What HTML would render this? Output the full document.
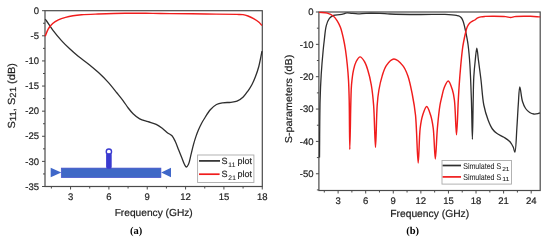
<!DOCTYPE html><html><head><meta charset="utf-8"><style>html,body{margin:0;padding:0;background:#fff;width:550px;height:243px;overflow:hidden}svg{display:block;text-rendering:geometricPrecision}text{font-family:"Liberation Sans",Arial,sans-serif;fill:#1e1e1e;stroke:#1e1e1e;stroke-width:0.2px}</style></head><body>
<svg width="550" height="243" viewBox="0 0 550 243">
<rect width="550" height="243" fill="#fff"/>
<line x1="51.39" y1="186.50" x2="51.39" y2="188.50" stroke="#4a4a4a" stroke-width="1"/>
<line x1="70.56" y1="186.50" x2="70.56" y2="189.50" stroke="#4a4a4a" stroke-width="1"/>
<text x="70.56" y="199.50" font-size="9.5" text-anchor="middle">3</text>
<line x1="89.73" y1="186.50" x2="89.73" y2="188.50" stroke="#4a4a4a" stroke-width="1"/>
<line x1="108.90" y1="186.50" x2="108.90" y2="189.50" stroke="#4a4a4a" stroke-width="1"/>
<text x="108.90" y="199.50" font-size="9.5" text-anchor="middle">6</text>
<line x1="128.07" y1="186.50" x2="128.07" y2="188.50" stroke="#4a4a4a" stroke-width="1"/>
<line x1="147.24" y1="186.50" x2="147.24" y2="189.50" stroke="#4a4a4a" stroke-width="1"/>
<text x="147.24" y="199.50" font-size="9.5" text-anchor="middle">9</text>
<line x1="166.41" y1="186.50" x2="166.41" y2="188.50" stroke="#4a4a4a" stroke-width="1"/>
<line x1="185.58" y1="186.50" x2="185.58" y2="189.50" stroke="#4a4a4a" stroke-width="1"/>
<text x="185.58" y="199.50" font-size="9.5" text-anchor="middle">12</text>
<line x1="204.75" y1="186.50" x2="204.75" y2="188.50" stroke="#4a4a4a" stroke-width="1"/>
<line x1="223.92" y1="186.50" x2="223.92" y2="189.50" stroke="#4a4a4a" stroke-width="1"/>
<text x="223.92" y="199.50" font-size="9.5" text-anchor="middle">15</text>
<line x1="243.09" y1="186.50" x2="243.09" y2="188.50" stroke="#4a4a4a" stroke-width="1"/>
<line x1="262.26" y1="186.50" x2="262.26" y2="189.50" stroke="#4a4a4a" stroke-width="1"/>
<text x="262.26" y="199.50" font-size="9.5" text-anchor="middle">18</text>
<line x1="42.00" y1="10.70" x2="45.00" y2="10.70" stroke="#4a4a4a" stroke-width="1"/>
<text x="39.00" y="13.90" font-size="9.5" text-anchor="end">0</text>
<line x1="43.00" y1="23.26" x2="45.00" y2="23.26" stroke="#4a4a4a" stroke-width="1"/>
<line x1="42.00" y1="35.81" x2="45.00" y2="35.81" stroke="#4a4a4a" stroke-width="1"/>
<text x="39.00" y="39.02" font-size="9.5" text-anchor="end">-5</text>
<line x1="43.00" y1="48.37" x2="45.00" y2="48.37" stroke="#4a4a4a" stroke-width="1"/>
<line x1="42.00" y1="60.93" x2="45.00" y2="60.93" stroke="#4a4a4a" stroke-width="1"/>
<text x="39.00" y="64.13" font-size="9.5" text-anchor="end">-10</text>
<line x1="43.00" y1="73.49" x2="45.00" y2="73.49" stroke="#4a4a4a" stroke-width="1"/>
<line x1="42.00" y1="86.05" x2="45.00" y2="86.05" stroke="#4a4a4a" stroke-width="1"/>
<text x="39.00" y="89.25" font-size="9.5" text-anchor="end">-15</text>
<line x1="43.00" y1="98.60" x2="45.00" y2="98.60" stroke="#4a4a4a" stroke-width="1"/>
<line x1="42.00" y1="111.16" x2="45.00" y2="111.16" stroke="#4a4a4a" stroke-width="1"/>
<text x="39.00" y="114.36" font-size="9.5" text-anchor="end">-20</text>
<line x1="43.00" y1="123.72" x2="45.00" y2="123.72" stroke="#4a4a4a" stroke-width="1"/>
<line x1="42.00" y1="136.27" x2="45.00" y2="136.27" stroke="#4a4a4a" stroke-width="1"/>
<text x="39.00" y="139.47" font-size="9.5" text-anchor="end">-25</text>
<line x1="43.00" y1="148.83" x2="45.00" y2="148.83" stroke="#4a4a4a" stroke-width="1"/>
<line x1="42.00" y1="161.39" x2="45.00" y2="161.39" stroke="#4a4a4a" stroke-width="1"/>
<text x="39.00" y="164.59" font-size="9.5" text-anchor="end">-30</text>
<line x1="43.00" y1="173.95" x2="45.00" y2="173.95" stroke="#4a4a4a" stroke-width="1"/>
<line x1="42.00" y1="186.50" x2="45.00" y2="186.50" stroke="#4a4a4a" stroke-width="1"/>
<text x="39.00" y="189.70" font-size="9.5" text-anchor="end">-35</text>
<rect x="45.00" y="10.70" width="217.30" height="175.80" fill="none" stroke="#4a4a4a" stroke-width="1.2"/>
<polygon points="50.7,167.8 50.7,177.2 61.3,172.5" fill="#3f67c9"/>
<rect x="61.3" y="168.1" width="99.6" height="9.5" fill="#3f68c6" stroke="#4650cc" stroke-width="0.7"/>
<polygon points="171,167.8 171,177.2 161.2,172.5" fill="#3f67c9"/>
<rect x="106.1" y="153.2" width="5.6" height="15.5" rx="1.6" fill="#3a3ad0"/>
<circle cx="108.9" cy="151.7" r="2.65" fill="none" stroke="#3a3ad0" stroke-width="1.4"/>
<path d="M45.20,19.20 C45.67,19.80 45.98,20.15 46.60,21.00 C48.01,22.92 50.80,27.42 53.20,30.60 C55.74,33.96 58.67,37.49 61.50,40.60 C64.18,43.54 66.92,46.20 69.70,48.80 C72.39,51.32 74.90,53.54 77.90,56.00 C81.34,58.82 85.74,61.82 89.30,64.70 C92.57,67.35 95.48,69.80 98.50,72.60 C101.65,75.52 104.78,78.59 107.80,81.90 C110.96,85.37 114.25,89.61 117.00,93.00 C119.29,95.82 121.28,98.22 123.20,100.80 C125.00,103.22 126.48,105.78 128.20,108.00 C129.79,110.06 131.25,111.93 133.10,113.70 C135.06,115.57 137.25,117.57 139.70,118.90 C142.20,120.26 145.24,120.80 148.00,121.70 C150.74,122.60 153.69,123.10 156.20,124.30 C158.61,125.46 160.80,127.19 162.80,128.70 C164.60,130.06 166.08,131.67 167.70,132.90 C169.15,134.00 170.78,134.50 172.00,135.80 C173.37,137.27 174.27,139.38 175.30,141.50 C176.50,143.97 177.50,147.04 178.60,149.80 C179.70,152.54 180.88,155.45 181.90,158.00 C182.79,160.24 183.48,162.69 184.40,164.30 C185.06,165.45 185.81,167.01 186.50,167.00 C187.18,166.99 187.90,165.55 188.50,164.30 C189.53,162.15 190.19,157.93 191.00,154.70 C191.82,151.43 192.54,147.93 193.40,144.80 C194.19,141.93 195.02,139.17 195.90,136.60 C196.70,134.27 197.47,132.17 198.40,130.00 C199.34,127.81 200.47,125.45 201.50,123.50 C202.37,121.84 203.01,120.74 204.10,119.00 C205.69,116.45 208.05,112.32 210.30,109.80 C212.23,107.64 214.31,105.67 216.50,104.50 C218.43,103.47 220.39,103.17 222.60,102.80 C225.13,102.38 228.35,102.61 230.90,102.30 C233.10,102.04 235.04,102.00 237.00,101.20 C239.15,100.32 241.35,98.74 243.20,97.00 C245.17,95.15 246.88,92.49 248.40,90.30 C249.77,88.33 250.88,86.63 252.00,84.50 C253.27,82.09 254.41,79.34 255.50,76.50 C256.69,73.38 257.80,70.22 258.80,66.50 C260.02,61.97 260.93,56.30 262.00,51.20" fill="none" stroke="#2e2e2e" stroke-width="1.3"/>
<path d="M45.20,36.30 C46.23,33.80 46.98,31.00 48.30,28.80 C49.52,26.78 51.01,24.99 52.70,23.50 C54.38,22.03 56.33,20.90 58.40,19.90 C60.60,18.84 63.16,18.08 65.60,17.40 C68.03,16.72 70.44,16.23 73.00,15.80 C75.72,15.35 78.20,15.07 81.50,14.80 C86.09,14.42 91.82,14.24 98.00,14.00 C105.90,13.69 115.94,13.30 125.00,13.20 C134.17,13.10 144.55,13.32 152.70,13.40 C159.14,13.46 163.17,13.52 170.00,13.60 C179.90,13.71 194.79,13.86 206.40,14.00 C217.04,14.13 230.74,14.25 237.00,14.40 C239.77,14.46 241.11,14.31 243.00,14.60 C244.76,14.87 246.31,15.38 248.00,16.00 C249.84,16.68 251.79,17.57 253.60,18.60 C255.46,19.66 257.55,21.03 259.00,22.30 C260.16,23.31 260.87,24.37 261.80,25.40" fill="none" stroke="#f01c1c" stroke-width="1.45"/>
<rect x="197.6" y="155" width="56.3" height="27.5" fill="#fff" stroke="#aaa" stroke-width="0.9"/>
<line x1="199" y1="160.9" x2="220" y2="160.9" stroke="#2e2e2e" stroke-width="1.7"/>
<line x1="199" y1="174.2" x2="219.6" y2="174.2" stroke="#f01c1c" stroke-width="1.7"/>
<text x="221.6" y="164.2" font-size="9">S</text><text x="228.2" y="166.5" font-size="6.6" style="stroke-width:0.1px;letter-spacing:0.4px">11</text><text x="237.4" y="164.2" font-size="9">plot</text>
<text x="221.6" y="177.2" font-size="9">S</text><text x="228.2" y="179.5" font-size="6.6" style="stroke-width:0.1px;letter-spacing:0.4px">21</text><text x="237.4" y="177.2" font-size="9">plot</text>
<text x="153.7" y="216.1" font-size="10.2" text-anchor="middle">Frequency (GHz)</text>
<text transform="translate(14.6,95.8) rotate(-90) scale(1.07,1)" font-size="10.3" text-anchor="middle">S<tspan font-size="9" dy="1">11</tspan><tspan dy="-1">, S</tspan><tspan font-size="9" dy="1">21</tspan><tspan dy="-1"> (dB)</tspan></text>
<text x="136.1" y="234" font-size="10.5" text-anchor="middle" style="font-family:'Liberation Serif',serif;font-weight:bold;stroke:none;fill:#000">(a)</text>
<line x1="324.31" y1="190.50" x2="324.31" y2="192.50" stroke="#4a4a4a" stroke-width="1"/>
<line x1="338.10" y1="190.50" x2="338.10" y2="193.50" stroke="#4a4a4a" stroke-width="1"/>
<text x="338.10" y="203.50" font-size="9.5" text-anchor="middle">3</text>
<line x1="351.89" y1="190.50" x2="351.89" y2="192.50" stroke="#4a4a4a" stroke-width="1"/>
<line x1="365.69" y1="190.50" x2="365.69" y2="193.50" stroke="#4a4a4a" stroke-width="1"/>
<text x="365.69" y="203.50" font-size="9.5" text-anchor="middle">6</text>
<line x1="379.48" y1="190.50" x2="379.48" y2="192.50" stroke="#4a4a4a" stroke-width="1"/>
<line x1="393.27" y1="190.50" x2="393.27" y2="193.50" stroke="#4a4a4a" stroke-width="1"/>
<text x="393.27" y="203.50" font-size="9.5" text-anchor="middle">9</text>
<line x1="407.06" y1="190.50" x2="407.06" y2="192.50" stroke="#4a4a4a" stroke-width="1"/>
<line x1="420.86" y1="190.50" x2="420.86" y2="193.50" stroke="#4a4a4a" stroke-width="1"/>
<text x="420.86" y="203.50" font-size="9.5" text-anchor="middle">12</text>
<line x1="434.65" y1="190.50" x2="434.65" y2="192.50" stroke="#4a4a4a" stroke-width="1"/>
<line x1="448.44" y1="190.50" x2="448.44" y2="193.50" stroke="#4a4a4a" stroke-width="1"/>
<text x="448.44" y="203.50" font-size="9.5" text-anchor="middle">15</text>
<line x1="462.23" y1="190.50" x2="462.23" y2="192.50" stroke="#4a4a4a" stroke-width="1"/>
<line x1="476.03" y1="190.50" x2="476.03" y2="193.50" stroke="#4a4a4a" stroke-width="1"/>
<text x="476.03" y="203.50" font-size="9.5" text-anchor="middle">18</text>
<line x1="489.82" y1="190.50" x2="489.82" y2="192.50" stroke="#4a4a4a" stroke-width="1"/>
<line x1="503.61" y1="190.50" x2="503.61" y2="193.50" stroke="#4a4a4a" stroke-width="1"/>
<text x="503.61" y="203.50" font-size="9.5" text-anchor="middle">21</text>
<line x1="517.40" y1="190.50" x2="517.40" y2="192.50" stroke="#4a4a4a" stroke-width="1"/>
<line x1="531.20" y1="190.50" x2="531.20" y2="193.50" stroke="#4a4a4a" stroke-width="1"/>
<text x="531.20" y="203.50" font-size="9.5" text-anchor="middle">24</text>
<line x1="315.90" y1="12.00" x2="318.90" y2="12.00" stroke="#4a4a4a" stroke-width="1"/>
<text x="313.50" y="15.20" font-size="9.5" text-anchor="end">0</text>
<line x1="316.90" y1="28.18" x2="318.90" y2="28.18" stroke="#4a4a4a" stroke-width="1"/>
<line x1="315.90" y1="44.35" x2="318.90" y2="44.35" stroke="#4a4a4a" stroke-width="1"/>
<text x="313.50" y="47.55" font-size="9.5" text-anchor="end">-10</text>
<line x1="316.90" y1="60.52" x2="318.90" y2="60.52" stroke="#4a4a4a" stroke-width="1"/>
<line x1="315.90" y1="76.70" x2="318.90" y2="76.70" stroke="#4a4a4a" stroke-width="1"/>
<text x="313.50" y="79.90" font-size="9.5" text-anchor="end">-20</text>
<line x1="316.90" y1="92.88" x2="318.90" y2="92.88" stroke="#4a4a4a" stroke-width="1"/>
<line x1="315.90" y1="109.05" x2="318.90" y2="109.05" stroke="#4a4a4a" stroke-width="1"/>
<text x="313.50" y="112.25" font-size="9.5" text-anchor="end">-30</text>
<line x1="316.90" y1="125.22" x2="318.90" y2="125.22" stroke="#4a4a4a" stroke-width="1"/>
<line x1="315.90" y1="141.40" x2="318.90" y2="141.40" stroke="#4a4a4a" stroke-width="1"/>
<text x="313.50" y="144.60" font-size="9.5" text-anchor="end">-40</text>
<line x1="316.90" y1="157.57" x2="318.90" y2="157.57" stroke="#4a4a4a" stroke-width="1"/>
<line x1="315.90" y1="173.75" x2="318.90" y2="173.75" stroke="#4a4a4a" stroke-width="1"/>
<text x="313.50" y="176.95" font-size="9.5" text-anchor="end">-50</text>
<line x1="316.90" y1="189.92" x2="318.90" y2="189.92" stroke="#4a4a4a" stroke-width="1"/>
<rect x="318.90" y="12.00" width="221.30" height="178.50" fill="none" stroke="#4a4a4a" stroke-width="1.2"/>
<path d="M319.50,157.60 C319.70,138.40 319.69,115.30 320.10,100.00 C320.37,89.85 320.68,83.08 321.20,74.70 C321.72,66.41 322.59,56.40 323.20,50.00 C323.59,45.92 323.85,43.63 324.30,40.00 C324.84,35.63 325.21,29.52 326.30,25.60 C327.10,22.72 328.01,20.18 329.40,18.40 C330.53,16.96 331.89,15.93 333.50,15.30 C335.27,14.61 337.76,15.03 339.70,14.70 C341.47,14.40 343.36,13.87 344.70,13.50 C345.62,13.25 346.08,12.88 347.00,12.80 C348.34,12.68 350.26,13.24 352.00,13.40 C353.91,13.58 355.86,13.80 358.00,13.80 C360.48,13.81 362.96,13.38 366.00,13.30 C370.02,13.19 375.73,13.26 380.00,13.40 C383.61,13.52 385.80,13.84 390.00,14.00 C397.15,14.28 409.60,14.44 419.00,14.50 C427.90,14.56 439.08,14.24 445.00,14.40 C448.07,14.48 449.93,14.60 452.00,14.80 C453.67,14.96 455.16,15.13 456.50,15.40 C457.61,15.62 458.65,15.74 459.50,16.20 C460.29,16.63 460.92,17.23 461.50,18.00 C462.19,18.92 462.69,20.12 463.20,21.50 C463.87,23.31 464.35,25.67 464.90,28.00 C465.53,30.68 466.16,33.83 466.70,36.70 C467.22,39.49 467.66,41.63 468.10,45.00 C468.77,50.16 469.40,57.18 469.90,64.70 C470.57,74.76 470.99,87.92 471.40,100.00 C471.83,112.75 472.10,139.30 472.40,139.30 C472.70,139.30 472.94,111.36 473.20,100.00 C473.40,91.31 473.40,84.11 473.80,77.00 C474.15,70.85 474.74,64.98 475.30,59.80 C475.76,55.52 476.28,48.10 476.80,48.10 C477.32,48.10 477.81,55.37 478.40,59.80 C479.17,65.62 480.15,72.90 481.00,80.00 C481.95,87.89 482.37,97.78 483.80,105.00 C484.93,110.69 486.47,115.69 488.10,120.00 C489.41,123.44 490.74,126.65 492.40,129.00 C493.70,130.83 494.98,132.00 496.70,133.30 C498.71,134.81 501.67,135.88 503.90,137.30 C505.98,138.62 508.13,139.83 509.70,141.50 C511.20,143.09 512.32,145.14 513.20,147.00 C514.01,148.71 514.41,152.26 514.90,152.20 C515.93,152.08 516.33,135.60 516.90,127.50 C517.45,119.67 517.78,111.56 518.30,104.40 C518.76,98.16 519.05,86.94 519.80,86.90 C520.49,86.87 521.29,97.57 522.50,101.50 C523.37,104.32 524.27,106.59 525.60,108.50 C526.75,110.15 528.23,111.57 529.70,112.50 C530.99,113.31 532.41,113.82 533.80,114.00 C535.15,114.17 536.77,113.86 537.90,113.60 C538.73,113.40 539.30,113.07 540.00,112.80" fill="none" stroke="#2e2e2e" stroke-width="1.3"/>
<path d="M319.10,12.40 C321.83,12.63 324.84,12.42 327.30,13.10 C329.52,13.71 331.63,14.68 333.30,16.00 C334.91,17.27 336.04,18.99 337.20,20.80 C338.47,22.78 339.54,24.94 340.50,27.50 C341.68,30.66 342.57,34.78 343.40,38.50 C344.24,42.27 344.88,45.90 345.50,50.00 C346.20,54.66 346.80,60.00 347.30,65.00 C347.80,70.00 348.19,74.64 348.50,80.00 C348.86,86.18 349.01,91.85 349.20,100.00 C349.50,112.81 349.52,149.40 349.80,149.40 C350.08,149.40 350.54,111.70 350.90,100.00 C351.10,93.55 351.06,90.01 351.50,85.00 C351.95,79.91 352.64,73.98 353.60,69.70 C354.32,66.51 354.96,63.74 356.20,61.50 C357.24,59.62 358.75,56.93 360.10,56.90 C361.48,56.87 363.20,59.61 364.40,61.50 C365.82,63.74 366.69,66.50 367.70,69.70 C369.05,73.97 370.35,79.53 371.30,85.00 C372.38,91.19 372.97,97.08 373.60,105.00 C374.52,116.50 374.90,147.40 375.50,147.40 C376.10,147.40 376.39,115.53 377.20,105.00 C377.68,98.72 378.05,94.90 378.90,90.00 C379.73,85.20 380.85,80.19 382.20,75.90 C383.38,72.15 384.27,68.46 386.30,65.60 C388.23,62.88 391.22,59.10 393.90,59.00 C396.71,58.89 400.48,62.82 402.80,65.60 C405.17,68.43 406.44,71.84 407.90,75.90 C409.81,81.20 411.14,88.54 412.40,95.00 C413.68,101.57 414.64,106.87 415.50,115.00 C416.82,127.53 417.36,163.00 418.20,163.00 C418.91,163.00 419.08,136.85 420.20,128.00 C420.89,122.52 421.55,118.63 422.80,114.80 C423.84,111.64 425.42,106.49 426.70,106.50 C427.98,106.51 429.47,111.65 430.50,114.80 C431.75,118.63 432.47,122.65 433.20,128.00 C434.30,136.13 434.60,159.00 435.30,159.00 C436.00,159.00 436.54,137.55 437.40,128.00 C438.15,119.75 439.02,110.88 440.00,105.00 C440.62,101.29 441.30,98.91 442.00,96.00 C442.67,93.25 443.06,90.51 444.10,88.00 C445.13,85.51 446.88,80.94 448.20,81.00 C449.63,81.06 451.28,86.53 452.30,89.60 C453.38,92.84 453.81,95.49 454.40,100.00 C455.47,108.17 455.85,134.80 456.50,134.80 C457.15,134.80 457.79,109.19 458.30,100.00 C458.64,93.96 458.83,90.36 459.20,85.00 C459.63,78.81 460.21,71.39 460.80,65.00 C461.35,59.10 462.03,52.22 462.60,48.00 C462.94,45.48 463.19,44.20 463.60,42.00 C464.11,39.30 464.82,35.71 465.50,33.00 C466.07,30.73 466.48,28.55 467.30,26.80 C467.98,25.35 468.87,24.05 469.80,23.10 C470.57,22.31 471.45,21.82 472.30,21.30 C473.12,20.80 474.00,20.51 474.80,20.00 C475.63,19.48 476.27,18.70 477.20,18.20 C478.26,17.63 479.62,17.20 480.90,16.90 C482.22,16.59 483.36,16.52 485.00,16.40 C487.41,16.23 490.80,16.18 494.00,16.20 C497.64,16.22 502.61,16.28 505.70,16.60 C507.76,16.82 509.24,17.55 510.80,17.50 C512.14,17.46 512.82,16.82 514.50,16.60 C517.95,16.15 525.83,16.20 530.50,16.30 C534.14,16.38 536.97,16.70 540.20,16.90" fill="none" stroke="#f01c1c" stroke-width="1.45"/>
<rect x="442" y="160.5" width="69.5" height="23.6" fill="#fff" stroke="#aaa" stroke-width="0.9"/>
<line x1="442.6" y1="165.5" x2="461" y2="165.5" stroke="#2e2e2e" stroke-width="1.7"/>
<line x1="442.6" y1="176.9" x2="461" y2="176.9" stroke="#f01c1c" stroke-width="1.7"/>
<text x="463.2" y="168.6" font-size="8.4" style="stroke-width:0.06px" textLength="38.0" lengthAdjust="spacingAndGlyphs">Simulated S</text><text x="502.2" y="170.6" font-size="5.8" style="stroke-width:0.05px" textLength="7.3" lengthAdjust="spacingAndGlyphs">21</text>
<text x="463.2" y="179.8" font-size="8.4" style="stroke-width:0.06px" textLength="38.0" lengthAdjust="spacingAndGlyphs">Simulated S</text><text x="502.2" y="181.3" font-size="5.8" style="stroke-width:0.05px" textLength="7.3" lengthAdjust="spacingAndGlyphs">11</text>
<text x="429.7" y="216.6" font-size="10.3" text-anchor="middle">Frequency (GHz)</text>
<text transform="translate(291.5,99) rotate(-90) scale(1.075,1)" font-size="10" text-anchor="middle">S-parameters (dB)</text>
<text x="412.7" y="234" font-size="10.5" text-anchor="middle" style="font-family:'Liberation Serif',serif;font-weight:bold;stroke:none;fill:#000">(b)</text>
</svg></body></html>
